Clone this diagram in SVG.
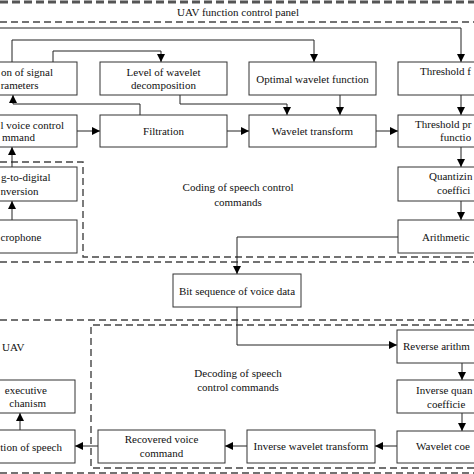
<svg xmlns="http://www.w3.org/2000/svg" width="474" height="474" viewBox="0 0 474 474">
<defs>
<marker id="ah" viewBox="0 0 10 10" refX="10" refY="5" markerWidth="8" markerHeight="8" markerUnits="userSpaceOnUse" orient="auto"><path d="M0,0 L10,5 L0,10 z" fill="#000"/></marker>
<style>
.box{fill:#fff;stroke:#333;stroke-width:1}
.t{font-family:"Liberation Serif","Times New Roman",serif;font-size:11px;fill:#111}
.m{text-anchor:middle}
.e{text-anchor:end}
.c{fill:none;stroke:#222;stroke-width:1}
.a{marker-end:url(#ah)}
.d{fill:none;stroke:#444;stroke-width:1.4;stroke-dasharray:7,4}
</style>
</defs>
<rect width="474" height="474" fill="#fff"/>
<g id="regions">
<line x1="0" y1="2" x2="474" y2="2" stroke="#555" stroke-width="3" stroke-dasharray="8,4"/>
<line class="d" x1="0" y1="22" x2="474" y2="22"/>
<line class="d" x1="0" y1="262" x2="474" y2="262"/>
<polyline class="d" points="0,162 83,162 83,257 474,257"/>
<line class="d" x1="0" y1="320" x2="474" y2="320"/>
<polyline class="d" points="474,325 91,325 91,468 474,468"/>
<line class="d" x1="0" y1="473" x2="474" y2="473"/>
<text class="t m" x="238" y="16">UAV function control panel</text>
<text class="t m" x="238" y="191">Coding of speech control</text>
<text class="t m" x="238" y="206">commands</text>
<text class="t m" x="238" y="377">Decoding of speech</text>
<text class="t m" x="238" y="391">control commands</text>
<text class="t e" x="24.5" y="351">UAV</text>
</g>
<g id="connectors">
<polyline class="c a" points="0,28 461,28 461,62"/>
<polyline class="c a" points="12,62 12,40 314,40 314,62"/>
<polyline class="c a" points="53,62 53,51 161,51 161,62"/>
<line class="c a" x1="77" y1="131" x2="100" y2="131"/>
<polyline class="c a" points="140,115 140,104 13,104 13,95"/>
<polyline class="c a" points="180,95 180,104 287,104 287,115"/>
<line class="c a" x1="340" y1="95" x2="340" y2="115"/>
<line class="c a" x1="227" y1="131" x2="249" y2="131"/>
<line class="c a" x1="376" y1="131" x2="398" y2="131"/>
<line class="c a" x1="461" y1="95" x2="461" y2="115"/>
<line class="c a" x1="461" y1="147" x2="461" y2="167"/>
<line class="c a" x1="461" y1="201" x2="461" y2="220"/>
<polyline class="c a" points="398,237 237,237 237,274"/>
<line class="c a" x1="12" y1="167" x2="12" y2="147"/>
<line class="c a" x1="12" y1="220" x2="12" y2="201"/>
<polyline class="c a" points="237,307 237,345 397,345"/>
<line class="c a" x1="462" y1="363" x2="462" y2="380"/>
<line class="c a" x1="462" y1="413" x2="462" y2="431"/>
<line class="c a" x1="397" y1="446" x2="375" y2="446"/>
<line class="c a" x1="247" y1="446" x2="225" y2="446"/>
<line class="c a" x1="98" y1="446" x2="75" y2="446"/>
<line class="c a" x1="20" y1="430" x2="20" y2="413"/>
</g>
<g id="n-params"><rect class="box" x="-20" y="62" width="97" height="33"/><text class="t e" x="53" y="76">on of signal</text><text class="t e" x="38.5" y="89">rameters</text></g>
<g id="n-level"><rect class="box" x="100" y="62" width="127" height="33"/><text class="t m" x="163.5" y="76">Level of wavelet</text><text class="t m" x="163.5" y="89">decomposition</text></g>
<g id="n-optimal"><rect class="box" x="249" y="62" width="127" height="33"/><text class="t m" x="312.5" y="83">Optimal wavelet function</text></g>
<g id="n-thrf"><rect class="box" x="398" y="62" width="100" height="33"/><text class="t" x="420" y="75">Threshold f</text></g>
<g id="n-voice"><rect class="box" x="-20" y="115" width="97" height="32"/><text class="t e" x="64" y="129">l voice control</text><text class="t e" x="35" y="141">mmand</text></g>
<g id="n-filt"><rect class="box" x="100" y="115" width="127" height="32"/><text class="t m" x="163.5" y="135">Filtration</text></g>
<g id="n-wt"><rect class="box" x="249" y="115" width="127" height="32"/><text class="t m" x="312.5" y="135">Wavelet transform</text></g>
<g id="n-thrp"><rect class="box" x="398" y="115" width="100" height="32"/><text class="t" x="415" y="128">Threshold pr</text><text class="t" x="440" y="141">functio</text></g>
<g id="n-adc"><rect class="box" x="-20" y="167" width="97" height="34"/><text class="t e" x="50.5" y="181">g-to-digital</text><text class="t e" x="38.5" y="195">nversion</text></g>
<g id="n-quant"><rect class="box" x="398" y="167" width="100" height="34"/><text class="t" x="429" y="180">Quantizin</text><text class="t" x="437" y="194">coeffici</text></g>
<g id="n-mic"><rect class="box" x="-20" y="220" width="97" height="33"/><text class="t e" x="41.5" y="241">crophone</text></g>
<g id="n-arith"><rect class="box" x="398" y="220" width="100" height="33"/><text class="t" x="422" y="241">Arithmetic</text></g>
<g id="n-bits"><rect class="box" x="173" y="274" width="128" height="33"/><text class="t m" x="237" y="294.5">Bit sequence of voice data</text></g>
<g id="n-rev"><rect class="box" x="397" y="330" width="100" height="33"/><text class="t" x="403" y="350">Reverse arithm</text></g>
<g id="n-exec"><rect class="box" x="-20" y="380" width="95" height="33"/><text class="t e" x="47" y="394">executive</text><text class="t e" x="46" y="407">chanism</text></g>
<g id="n-invq"><rect class="box" x="397" y="380" width="100" height="33"/><text class="t" x="416" y="394">Inverse quan</text><text class="t" x="427" y="408">coefficie</text></g>
<g id="n-speech"><rect class="box" x="-20" y="430" width="95" height="33"/><text class="t e" x="62" y="451">tion of speech</text></g>
<g id="n-rec"><rect class="box" x="98" y="430" width="127" height="33"/><text class="t m" x="161.5" y="443">Recovered voice</text><text class="t m" x="161.5" y="457">command</text></g>
<g id="n-iwt"><rect class="box" x="247" y="430" width="128" height="33"/><text class="t m" x="311" y="450">Inverse wavelet transform</text></g>
<g id="n-wcoef"><rect class="box" x="397" y="431" width="100" height="32"/><text class="t" x="416" y="450">Wavelet coe</text></g>
</svg>
